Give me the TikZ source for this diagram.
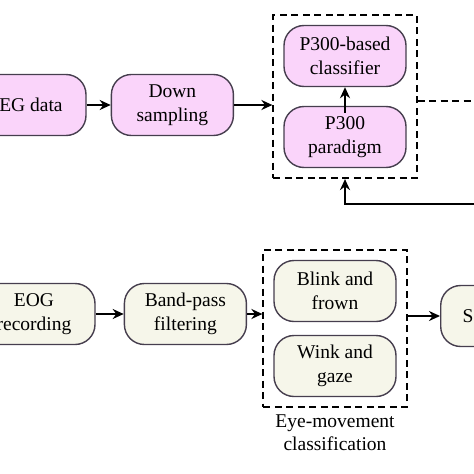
\documentclass[tikz,border=0pt]{standalone}
\usepackage{fontspec}
\setmainfont{Liberation Serif}
\usepackage{tikz}
\usetikzlibrary{arrows.meta,positioning,fit}
\usepackage{xcolor}
\definecolor{cPink}{RGB}{250,212,250}
\definecolor{cCream}{RGB}{246,246,234}
\definecolor{cEdge}{RGB}{70,62,78}

\begin{document}
\begin{tikzpicture}[
  x=1pt, y=-1pt,
  font=\fontsize{19.5}{23.5}\selectfont,
  bx/.style={rectangle, rounded corners=20pt, draw=cEdge, line width=1.4pt,
    align=center, inner sep=2pt, minimum width=122pt, minimum height=61pt},
  pk/.style={bx, fill=cPink},
  cr/.style={bx, fill=cCream},
  grp/.style={draw=black, line width=1.8pt, dash pattern=on 7pt off 4.5pt},
  ar/.style={-{Stealth[length=11pt, width=10pt]}, line width=1.8pt, draw=black}]
\useasboundingbox (0,0) rectangle (474,474);
\clip (0,0) rectangle (474,474);
% upper branch
\node[pk] (e1) at (25,105) {EEG data};
\node[pk, right=24pt of e1] (e2) {Down\\sampling};
\node[pk] (cls) at (345,56) {P300-based\\classifier};
\node[pk] (par) at (345,137) {P300\\paradigm};
\node[grp, fit=(cls)(par), inner xsep=10pt, inner ysep=10pt] (g1) {};
\draw[ar] (e1) -- (e2);
\draw[ar] (e2) -- (e2 -| g1.west);
\draw[ar] ([yshift=-7pt]par.north) -- (cls.south);
\coordinate (o1) at (474,101);
\draw[grp] (o1 -| g1.east) -- (o1);
\coordinate (f1) at (474,204);
\draw[ar] (f1) -| (g1.south);
% lower branch
\node[cr] (m1) at (34,314) {EOG\\recording};
\node[cr, right=28pt of m1] (m2) {Band-pass\\filtering};
\node[cr] (bf) at (335,291) {Blink and\\frown};
\node[cr] (wg) at (335,366) {Wink and\\gaze};
\node[grp, fit=(bf)(wg), inner xsep=10pt, inner ysep=10pt] (g2) {};
\node[below=3pt of g2, align=center] (lb) {Eye-movement\\classification};
\node[cr, anchor=west, text width=78pt, align=left, inner xsep=22pt] (sw) at (440,316) {S};
\draw[ar] (m1) -- (m2);
\draw[ar] (m2) -- (m2 -| g2.west);
\draw[ar] (sw.west -| g2.east) -- (sw);
\end{tikzpicture}
\end{document}
